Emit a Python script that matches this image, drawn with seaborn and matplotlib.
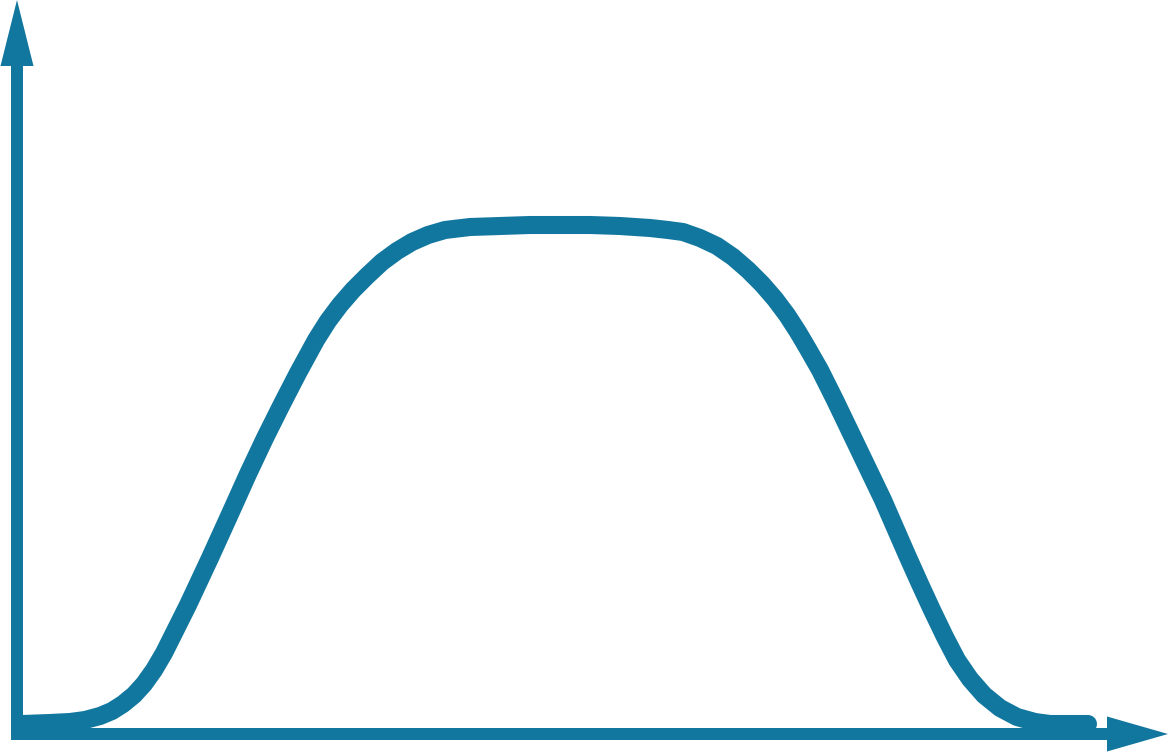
import matplotlib
matplotlib.use("Agg")
import matplotlib.pyplot as plt
from matplotlib.patches import FancyArrow
import seaborn as sns

# curve, origin at the corner of the two axes
curve_x = [6, 33, 53, 68, 83, 95, 106, 117, 127, 137, 147, 159, 171, 193,
           213, 231, 248, 265, 281, 299, 311, 323, 336, 350, 365, 380, 395,
           411, 428, 453, 483, 513, 543, 573, 603, 633,
           651, 666, 683, 700, 716, 731, 745, 758, 770, 781, 791, 803, 818,
           842, 866, 890, 903, 915, 928, 940, 953, 967, 983, 1000, 1018,
           1033, 1071]
curve_y = [10, 11, 12, 14, 18, 23, 30, 39, 50, 64, 81, 105, 129, 176,
           220, 260, 296, 330, 361, 394, 413, 429, 444, 458, 472, 483, 492,
           499, 504, 507, 508, 509, 509, 509, 508, 506,
           504, 502, 496, 488, 477, 464, 450, 435, 419, 402, 385, 364, 334,
           284, 234, 179, 150, 124, 97, 74, 55, 39, 26, 17, 12,
           10, 10]

blue = "#12779e"

sns.set_style("white")
fig = plt.figure(figsize=(11.7, 7.53), dpi=100)
ax = fig.add_axes([0, 0, 1, 1])
ax.set_xlim(-17, 1153)
ax.set_ylim(-19, 734)
ax.axis("off")

# axis arrows
ax.add_patch(FancyArrow(0, -6, 0, 740, width=12, head_width=33, head_length=66,
                        length_includes_head=True, color=blue, lw=0))
ax.add_patch(FancyArrow(-6, 0, 1157, 0, width=12, head_width=35, head_length=61,
                        length_includes_head=True, color=blue, lw=0))

sns.lineplot(x=curve_x, y=curve_y, sort=False, color=blue, linewidth=13, ax=ax,
             solid_capstyle="round", solid_joinstyle="round")

fig.savefig("out.png", dpi=100)
